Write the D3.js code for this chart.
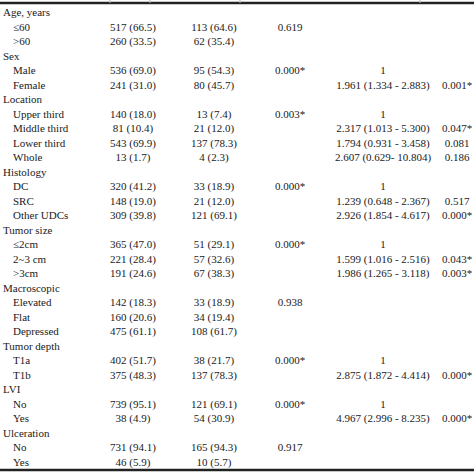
<!DOCTYPE html>
<html><head><meta charset="utf-8">
<script src="https://cdn.jsdelivr.net/npm/d3@7"></script>
<style>body{margin:0;background:#fff}</style>
</head><body>
<svg id="t" width="474" height="474"></svg>
<script>
var labels = ["Age, years","≤60",">60","Sex","Male","Female","Location","Upper third","Middle third","Lower third","Whole",
  "Histology","DC","SRC","Other UDCs","Tumor size","≤2cm","2~3 cm",">3cm","Macroscopic","Elevated","Flat","Depressed",
  "Tumor depth","T1a","T1b","LVI","No","Yes","Ulceration","No","Yes"];
var isHeader = [1,0,0,1,0,0,1,0,0,0,0,1,0,0,0,1,0,0,0,1,0,0,0,1,0,0,1,0,0,1,0,0];
var col1 = ["","517 (66.5)","260 (33.5)","","536 (69.0)","241 (31.0)","","140 (18.0)","81 (10.4)","543 (69.9)","13 (1.7)",
  "","320 (41.2)","148 (19.0)","309 (39.8)","","365 (47.0)","221 (28.4)","191 (24.6)","","142 (18.3)","160 (20.6)","475 (61.1)",
  "","402 (51.7)","375 (48.3)","","739 (95.1)","38 (4.9)","","731 (94.1)","46 (5.9)"];
var col2 = ["","113 (64.6)","62 (35.4)","","95 (54.3)","80 (45.7)","","13 (7.4)","21 (12.0)","137 (78.3)","4 (2.3)",
  "","33 (18.9)","21 (12.0)","121 (69.1)","","51 (29.1)","57 (32.6)","67 (38.3)","","33 (18.9)","34 (19.4)","108 (61.7)",
  "","38 (21.7)","137 (78.3)","","121 (69.1)","54 (30.9)","","165 (94.3)","10 (5.7)"];
var pval = ["","0.619","","","0.000*","","","0.003*","","","","","0.000*","","","","0.000*","","","","0.938","","",
  "","0.000*","","","0.000*","","","0.917",""];
var orci = ["","","","","1","1.961 (1.334 - 2.883)","","1","2.317 (1.013 - 5.300)","1.794 (0.931 - 3.458)","2.607 (0.629- 10.804)",
  "","1","1.239 (0.648 - 2.367)","2.926 (1.854 - 4.617)","","1","1.599 (1.016 - 2.516)","1.986 (1.265 - 3.118)","","","","",
  "","1","2.875 (1.872 - 4.414)","","1","4.967 (2.996 - 8.235)","","",""];
var pval2 = ["","","","","","0.001*","","","0.047*","0.081","0.186","","","0.517","0.000*","","","0.043*","0.003*","","","","",
  "","","0.000*","","","0.000*","","",""];

var svg = d3.select("#t");
var y = d3.scaleBand().domain(d3.range(labels.length)).range([5, 469]);
var cols = [{d:col1,x:133},{d:col2,x:214},{d:pval,x:290},{d:orci,x:383},{d:pval2,x:457}];

svg.append("line").attr("x1",0).attr("x2",474).attr("y1",3).attr("y2",3).attr("stroke","#222").attr("stroke-width",2.5);
[110,150,240,420].forEach(function(x){
  svg.append("line").attr("x1",x).attr("x2",x).attr("y1",0).attr("y2",3).attr("stroke","#bbb");
});
svg.append("line").attr("x1",0).attr("x2",474).attr("y1",470).attr("y2",470).attr("stroke","#222").attr("stroke-width",2.5);

var g = svg.append("g").style("font-family","'Liberation Serif', 'Times New Roman', serif").style("font-size","11px").attr("fill","#1a1a1a");
g.selectAll(".lab").data(labels).enter().append("text")
  .attr("x",function(d,i){ return isHeader[i] ? 3 : 13; })
  .attr("y",function(d,i){ return y(i)+y.bandwidth()/2; })
  .attr("dy","0.35em").text(function(d){ return d; });
cols.forEach(function(c){
  g.selectAll(null).data(c.d).enter().append("text")
    .attr("x",c.x).attr("text-anchor","middle")
    .attr("y",function(d,i){ return y(i)+y.bandwidth()/2; })
    .attr("dy","0.35em").text(function(d){ return d; });
});
</script>
</body></html>
